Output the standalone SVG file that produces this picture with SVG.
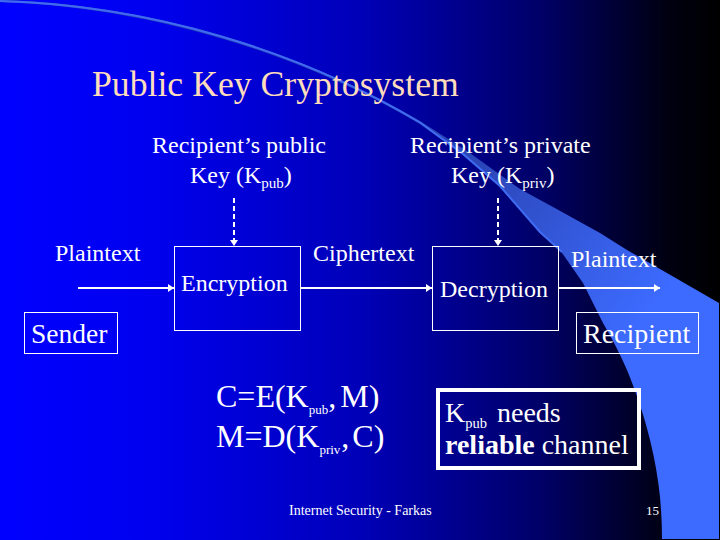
<svg xmlns="http://www.w3.org/2000/svg" width="720" height="540" viewBox="0 0 720 540">
<defs>
<linearGradient id="bg" x1="0" y1="0" x2="1" y2="0">
<stop offset="0" stop-color="#0000ff"/><stop offset="0.2" stop-color="#0000f0"/><stop offset="0.5" stop-color="#0000b8"/><stop offset="0.75" stop-color="#000068"/><stop offset="0.93" stop-color="#000010"/><stop offset="1" stop-color="#000000"/>
</linearGradient>
<linearGradient id="sw" gradientUnits="userSpaceOnUse" x1="480" y1="170" x2="650" y2="310">
<stop offset="0" stop-color="#2b46b8"/><stop offset="1" stop-color="#3d6bff"/>
</linearGradient>
<marker id="ah" markerUnits="userSpaceOnUse" markerWidth="7" markerHeight="8" refX="6" refY="4" orient="auto"><path d="M0 0L6 4L0 8Z" fill="#fff"/></marker>
</defs>
<style>
text{font-family:"Liberation Serif","Times New Roman",serif;fill:#fff;font-size:24px}
.c{stroke:#fff;stroke-width:2;fill:none;marker-end:url(#ah)}
.d{stroke-dasharray:5 3}
.b{fill:none;stroke:#fff;stroke-width:1}
.s{font-size:15px}
.f{font-size:32px}
.fs{font-size:13px}
.n{font-size:28px}
.t{font-size:14px}
</style>
<rect width="720" height="540" fill="url(#bg)"/>
<path d="M0 0C150 4 300 50 420 121L467 151L520 189L553 207L600 233L627 250L719 303V539H662C662 520 661 510 660 497C658 478 655 460 650 440C644 415 636 392 627 370C620 354 612 338 603 323L583 283L560 250L540 233L500 187L463 155L420 124C300 53 150 7 0 2Z" fill="url(#sw)"/>
<path d="M0 1C150 5 300 51 420 122.500L463 154L500 186L540 232L562 252" fill="none" stroke="#3f6cf2" stroke-width="2"/>
<g id="title"><text x="92" y="96" style="font-size:35.700px;fill:#ffdcbc">Public Key Cryptosystem</text></g>
<g id="connectors">
<path class="c d" d="M234 198V246"/>
<path class="c d" d="M498 198V246"/>
<path class="c" d="M78 288H174"/>
<path class="c" d="M301 288H432"/>
<path class="c" d="M559 288H660"/>
</g>
<g id="label-pub"><text x="152" y="152.500">Recipient’s public</text><text x="190" y="182.500">Key (K<tspan class="s" dy="5">pub</tspan><tspan dy="-5">)</tspan></text></g>
<g id="label-priv"><text x="410" y="152.500">Recipient’s private</text><text x="451" y="182.500">Key (K<tspan class="s" dy="5">priv</tspan><tspan dy="-5">)</tspan></text></g>
<g id="plaintext-in"><text x="55" y="261">Plaintext</text></g>
<g id="ciphertext"><text x="313" y="261">Ciphertext</text></g>
<g id="plaintext-out"><text x="571" y="267">Plaintext</text></g>
<g id="encryption"><rect class="b" x="174.500" y="246.500" width="126" height="84"/><text x="181" y="291">Encryption</text></g>
<g id="decryption"><rect class="b" x="432.500" y="246.500" width="126" height="84"/><text x="440" y="297">Decryption</text></g>
<g id="sender"><rect class="b" x="24.500" y="312.500" width="93" height="41"/><text x="31" y="343" style="font-size:27.500px">Sender</text></g>
<g id="recipient"><rect class="b" x="576.500" y="312.500" width="122" height="41"/><text x="583" y="343" class="n">Recipient</text></g>
<g id="formula"><text x="216" y="407" class="f">C=E(K<tspan class="fs" dy="7">pub</tspan><tspan dy="-7">,</tspan><tspan dx="4">M)</tspan></text><text x="216" y="447" class="f">M=D(K<tspan class="fs" dy="7">priv</tspan><tspan dx="1" dy="-7">,</tspan><tspan dx="3">C)</tspan></text></g>
<g id="note"><rect x="438" y="390" width="201" height="78" fill="none" stroke="#fff" stroke-width="4"/><text x="445" y="422" class="n">K<tspan dy="6" style="font-size:14.500px">pub</tspan><tspan dx="3" dy="-6"> needs</tspan></text><text x="445" y="454" class="n"><tspan font-weight="bold">reliable</tspan> channel</text></g>
<g id="footer"><text x="289" y="515" class="t">Internet Security - Farkas</text><text x="646" y="515" class="t" style="font-size:13px">15</text></g>
</svg>
